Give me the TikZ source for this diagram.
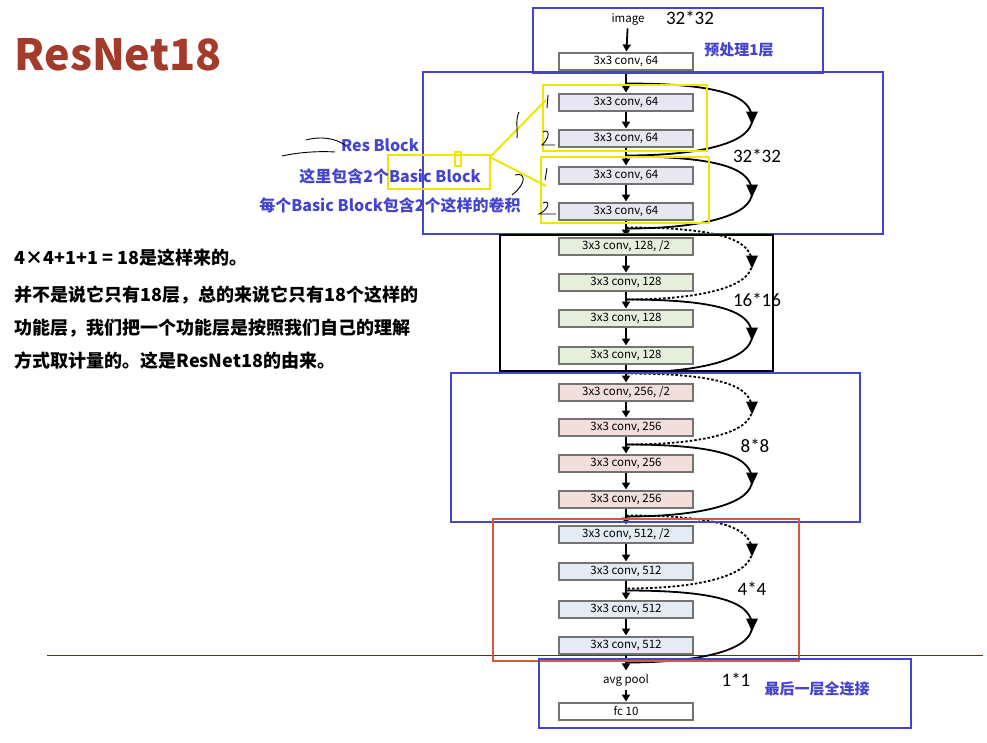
\documentclass[tikz,border=0pt]{standalone}
\usepackage{fontspec}
\setmainfont{Noto Sans CJK SC}
\newfontfamily\cjk{Noto Sans CJK SC}
\newfontfamily\dimf{Carlito}
\usetikzlibrary{arrows.meta}
\definecolor{lav}{HTML}{E8E6F0}
\definecolor{grn}{HTML}{E6EEDC}
\definecolor{pnk}{HTML}{F2DEDA}
\definecolor{lbl}{HTML}{E4EBF3}
\definecolor{bblue}{HTML}{4444CC}
\definecolor{tred}{HTML}{A33A2A}
\definecolor{ored}{HTML}{D45A3C}
\definecolor{yel}{HTML}{F2E600}
\begin{document}
\begin{tikzpicture}[x=1pt,y=-1pt,
 layer/.style={draw=gray!90!black,line width=2pt,minimum width=134pt,minimum height=17pt,inner sep=0pt,font=\fontsize{11.5}{12}\selectfont},
 arr/.style={-{Triangle[length=7pt,width=8pt]},line width=1.8pt},
 dim/.style={font=\dimf\fontsize{19}{20}\selectfont},
 note/.style={text=bblue,font=\bfseries\fontsize{16}{18}\selectfont},
 body/.style={anchor=west,font=\bfseries\fontsize{18}{20}\selectfont},
 dots/.style={dash pattern=on 2.5pt off 2pt},
 frame/.style={line width=2pt}]
\useasboundingbox (0,0) rectangle (987,742);
\fill[white] (0,0) rectangle (987,742);
\draw[red!75!black,line width=0.8pt] (47,655) -- (983,655);
% title & text
\node[anchor=west,text=tred,font=\bfseries\fontsize{43}{46}\selectfont] (title) at (11,55) {ResNet18};
\node[body] (t1) at (11,258) {4×4+1+1 = 18是这样来的。};
\node[body] (t2) at (11,295) {并不是说它只有18层，总的来说它只有18个这样的};
\node[body] (t3) at (11,328) {功能层，我们把一个功能层是按照我们自己的理解};
\node[body] (t4) at (11,361) {方式取计量的。这是ResNet18的由来。};
% layers
\node[font=\fontsize{11.5}{12}\selectfont] (img) at (628,19) {image};
\node[layer,fill=white] (p) at (626,61) {3x3 conv, 64};
\node[layer,fill=lav] (a1) at (626,102) {3x3 conv, 64};
\node[layer,fill=lav] (a2) at (626,138) {3x3 conv, 64};
\node[layer,fill=lav] (a3) at (626,175) {3x3 conv, 64};
\node[layer,fill=lav] (a4) at (626,211) {3x3 conv, 64};
\node[layer,fill=grn] (b1) at (626,246) {3x3 conv, 128, /2};
\node[layer,fill=grn] (b2) at (626,282) {3x3 conv, 128};
\node[layer,fill=grn] (b3) at (626,318) {3x3 conv, 128};
\node[layer,fill=grn] (b4) at (626,355) {3x3 conv, 128};
\node[layer,fill=pnk] (c1) at (626,392) {3x3 conv, 256, /2};
\node[layer,fill=pnk] (c2) at (626,427) {3x3 conv, 256};
\node[layer,fill=pnk] (c3) at (626,463) {3x3 conv, 256};
\node[layer,fill=pnk] (c4) at (626,499) {3x3 conv, 256};
\node[layer,fill=lbl] (d1) at (626,534) {3x3 conv, 512, /2};
\node[layer,fill=lbl] (d2) at (626,571) {3x3 conv, 512};
\node[layer,fill=lbl] (d3) at (626,609) {3x3 conv, 512};
\node[layer,fill=lbl] (d4) at (626,645) {3x3 conv, 512};
\node[font=\fontsize{11.5}{12}\selectfont] (avg) at (626,680) {avg pool};
\node[layer,fill=white] (fc) at (626,711) {fc 10};
\foreach \u/\v in {img/p,p/a1,a1/a2,a2/a3,a3/a4,a4/b1,b1/b2,b2/b3,b3/b4,b4/c1,c1/c2,c2/c3,c3/c4,c4/d1,d1/d2,d2/d3,d3/d4,d4/avg,avg/fc}
  \draw[arr] (\u) -- (\v);
% skips
\foreach \s/\e/\st in {a1/a2/solid,a3/a4/solid,b1/b2/dots,b3/b4/solid,c1/c2/dots,c3/c4/solid,d1/d2/dots,d3/d4/solid}{
  \coordinate (s\s) at ([yshift=9pt]\s.north);
  \coordinate (e\s) at ([yshift=-8pt]\e.south);
  \draw[line width=1.8pt,\st] (s\s) .. controls ++(100,0) and ++(0,-22) .. ++(126,36) coordinate (m\s);
  \draw[line width=1.8pt,\st] (m\s) .. controls ++(0,22) and ++(80,0) .. (e\s);
  \fill ([shift={(-6,-8)}]m\s) -- ([shift={(6,-8)}]m\s) -- ([shift={(0,5)}]m\s) -- cycle;
}
% dims
\node[dim] (d32a) at (690,18) {32*32};
\node[dim] (d32b) at (757,156) {32*32};
\node[dim] (d16) at (757,300) {16*16};
\node[dim] (d8) at (755,446) {8*8};
\node[dim] (d4) at (752,589) {4*4};
\node[dim] (d1) at (736,680) {1*1};
\node[note,font=\bfseries\fontsize{15}{17}\selectfont] (pre) at (739,50) {预处理1层};
\node[note,font=\bfseries\fontsize{15}{17}\selectfont] (last) at (817,689) {最后一层全连接};
% frames
\draw[frame,bblue] (533,8) rectangle (823,73);
\draw[frame,bblue] (423,72) rectangle (883,234);
\draw[frame,black] (500,235) rectangle (773,371);
\draw[frame,bblue] (451,373) rectangle (860,522);
\draw[frame,ored] (493,519) rectangle (799,661);
\draw[frame,bblue] (539,659) rectangle (911,728);
% yellow
\draw[frame,yel] (543,85) rectangle (707,151);
\draw[frame,yel] (541,157) rectangle (709,223);
\draw[frame,yel] (388,155) rectangle (490,189);
\draw[frame,yel] (455,152) rectangle (461,166);
\draw[frame,yel] (490,157) -- (546,100);
\draw[frame,yel] (490,157) -- (546,186);
% notes
\node[note] (rb) at (380,145) {Res Block};
\node[note] (bb) at (390,176) {这里包含2个Basic Block};
\node[note] (eb) at (390,205) {每个Basic Block包含2个这样的卷积};
% scribbles
\draw[line width=0.9pt] (306,140) .. controls (320,136) and (335,138) .. (345,145);
\draw[line width=0.9pt] (282,156) .. controls (300,152) and (320,151) .. (335,152);
\draw[line width=0.9pt] (519,112) .. controls (515,120) and (518,130) .. (517,138);
\draw[line width=0.9pt] (515,175) .. controls (525,172) and (528,182) .. (512,195);
\draw[line width=0.9pt] (548,95) -- (547,108);
\draw[line width=0.9pt] (543,132) .. controls (550,128) and (550,138) .. (542,145) -- (555,145);
\draw[line width=0.9pt] (547,168) -- (545,180);
\draw[line width=0.9pt] (543,203) .. controls (550,199) and (550,209) .. (539,214) -- (556,214);
\end{tikzpicture}
\end{document}
